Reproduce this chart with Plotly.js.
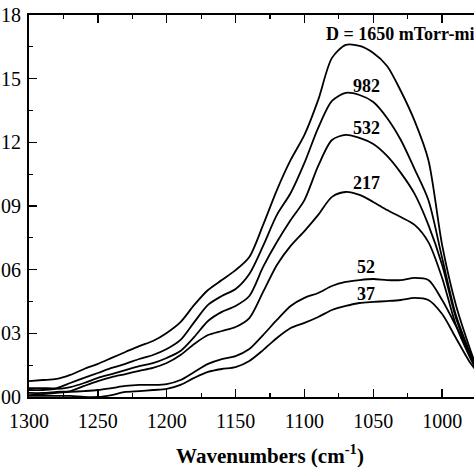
<!DOCTYPE html>
<html>
<head>
<meta charset="utf-8">
<script src="https://cdn.plot.ly/plotly-3.0.1.min.js"></script>
<style>
  html, body { margin: 0; padding: 0; overflow: hidden; background: #fff; }
  #chart { width: 520px; height: 474px; }
</style>
</head>
<body>
<div id="chart"></div>
<script>
// Infrared absorbance spectra for increasing exposure dose D (mTorr-min)
const wavenumbers = [1300, 1290, 1280, 1270, 1260, 1250, 1240, 1230, 1220, 1210,
  1200, 1190, 1180, 1170, 1160, 1150, 1140, 1130, 1120, 1110,
  1100, 1090, 1080, 1070, 1060, 1050, 1040, 1030, 1020, 1010,
  1000, 990, 980, 975];

const abs1650 = [0.0075, 0.0080, 0.0085, 0.0104, 0.0132, 0.0156, 0.0184, 0.0212, 0.0240, 0.0264,
  0.0302, 0.0353, 0.0434, 0.0504, 0.0551, 0.0598, 0.0660, 0.0811, 0.0975, 0.1117,
  0.1235, 0.1400, 0.1598, 0.1659, 0.1654, 0.1621, 0.1560, 0.1442, 0.1301, 0.1117,
  0.0716, 0.0434, 0.0231, 0.0141];

const abs982 = [0.0042, 0.0042, 0.0042, 0.0066, 0.0090, 0.0113, 0.0137, 0.0156, 0.0179, 0.0198,
  0.0226, 0.0269, 0.0353, 0.0434, 0.0476, 0.0509, 0.0580, 0.0712, 0.0858, 0.0961,
  0.1103, 0.1268, 0.1395, 0.1433, 0.1423, 0.1390, 0.1315, 0.1211, 0.1074, 0.0928,
  0.0655, 0.0386, 0.0212, 0.0137];

const abs532 = [0.0033, 0.0033, 0.0038, 0.0047, 0.0066, 0.0090, 0.0108, 0.0127, 0.0146, 0.0160,
  0.0184, 0.0217, 0.0283, 0.0358, 0.0401, 0.0429, 0.0476, 0.0613, 0.0730, 0.0834,
  0.0928, 0.1089, 0.1211, 0.1235, 0.1221, 0.1192, 0.1136, 0.1056, 0.0957, 0.0811,
  0.0622, 0.0372, 0.0198, 0.0132];

const abs217 = [0.0019, 0.0019, 0.0024, 0.0028, 0.0052, 0.0075, 0.0094, 0.0108, 0.0123, 0.0137,
  0.0160, 0.0198, 0.0250, 0.0292, 0.0311, 0.0330, 0.0372, 0.0495, 0.0622, 0.0712,
  0.0782, 0.0858, 0.0943, 0.0966, 0.0952, 0.0919, 0.0881, 0.0848, 0.0811, 0.0730,
  0.0561, 0.0339, 0.0189, 0.0127];

const abs52 = [0.0009, 0.0014, 0.0019, 0.0024, 0.0028, 0.0033, 0.0042, 0.0052, 0.0057, 0.0057,
  0.0061, 0.0080, 0.0118, 0.0156, 0.0179, 0.0193, 0.0226, 0.0292, 0.0363, 0.0429,
  0.0467, 0.0490, 0.0523, 0.0542, 0.0551, 0.0556, 0.0551, 0.0551, 0.0561, 0.0551,
  0.0457, 0.0335, 0.0203, 0.0141];

const abs37 = [0.0005, 0.0005, 0.0005, 0.0005, 0.0000, 0.0000, 0.0009, 0.0024, 0.0028, 0.0033,
  0.0038, 0.0057, 0.0090, 0.0118, 0.0132, 0.0141, 0.0170, 0.0221, 0.0278, 0.0325,
  0.0349, 0.0377, 0.0410, 0.0429, 0.0443, 0.0448, 0.0452, 0.0457, 0.0467, 0.0457,
  0.0391, 0.0278, 0.0165, 0.0123];

const seriesValues = [abs1650, abs982, abs532, abs217, abs52, abs37];

// Dose labels placed above each curve near its maximum
const doseLabels = ['D = 1650 mTorr-min', '982', '532', '217', '52', '37'];
const labelX = [1086, 1055, 1055, 1055, 1055, 1055];
const labelY = [0.171, 0.1466, 0.1268, 0.1008, 0.0613, 0.0485];

const serif = "'Liberation Serif', 'Times New Roman', serif";

const traces = seriesValues.map(vals => ({
  x: wavenumbers,
  y: vals,
  type: 'scatter',
  mode: 'lines',
  line: { color: '#000', width: 1.8, shape: 'spline', smoothing: 0.8 },
  hoverinfo: 'skip',
  showlegend: false
}));

const annotations = doseLabels.map((t, i) => ({
  x: labelX[i],
  y: labelY[i],
  xref: 'x',
  yref: 'y',
  text: '<b>' + t + '</b>',
  showarrow: false,
  xanchor: i === 0 ? 'left' : 'center',
  yanchor: 'middle',
  font: { family: serif, size: 18, color: '#000' }
}));

const layout = {
  width: 520,
  height: 474,
  margin: { l: 29, r: 9, t: 15, b: 77 },
  paper_bgcolor: '#fff',
  plot_bgcolor: '#fff',
  showlegend: false,
  xaxis: {
    range: [1300, 950],
    tick0: 1000,
    dtick: 50,
    ticks: 'inside',
    ticklen: 8,
    tickwidth: 1.5,
    tickcolor: '#000',
    minor: { ticks: 'inside', ticklen: 4, tickwidth: 1.2, tickcolor: '#000', dtick: 25 },
    showline: true,
    linewidth: 2,
    linecolor: '#000',
    mirror: 'ticks',
    showgrid: false,
    zeroline: false,
    ticklabelstandoff: 5,
    tickfont: { family: serif, size: 20, color: '#000' },
    title: {
      text: 'Wavenumbers (cm<sup>-1</sup>)',
      font: { family: serif, size: 21, color: '#000', weight: 'bold' },
      standoff: 17
    }
  },
  yaxis: {
    range: [0, 0.18],
    tick0: 0,
    dtick: 0.03,
    tickformat: '.2f',
    ticks: 'inside',
    ticklen: 8,
    tickwidth: 1.5,
    tickcolor: '#000',
    minor: { ticks: 'inside', ticklen: 4, tickwidth: 1.2, tickcolor: '#000', dtick: 0.015 },
    showline: true,
    linewidth: 2,
    linecolor: '#000',
    mirror: 'ticks',
    showgrid: false,
    zeroline: false,
    ticklabelstandoff: 2,
    tickfont: { family: serif, size: 20, color: '#000' }
  },
  annotations: annotations
};

Plotly.newPlot('chart', traces, layout, { staticPlot: true, displayModeBar: false });
</script>
</body>
</html>
